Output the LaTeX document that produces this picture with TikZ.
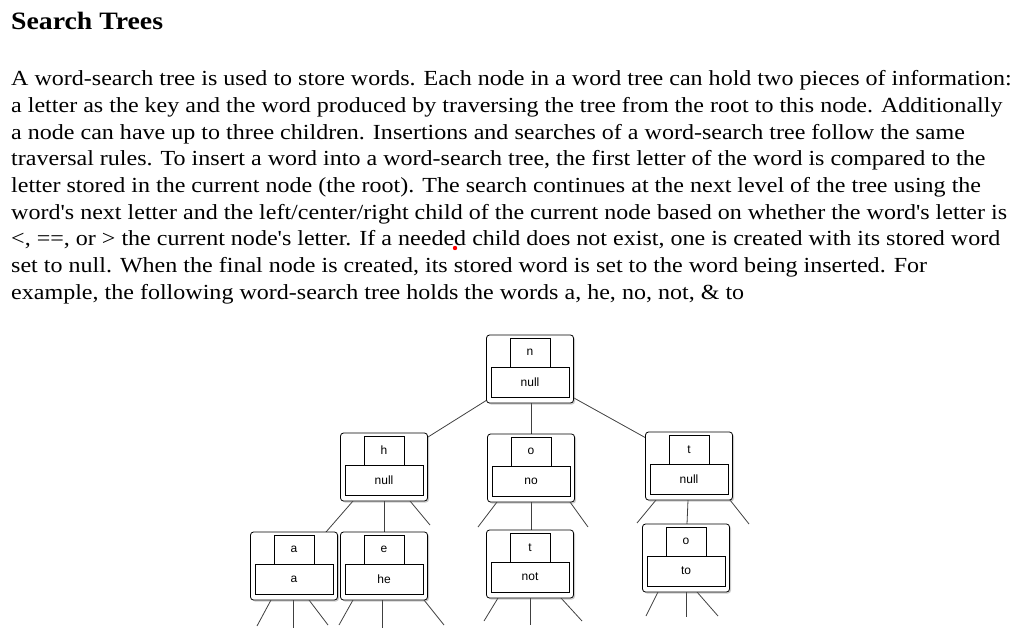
\documentclass[tikz,border=0pt]{standalone}
\usepackage{fontspec}
\setmainfont{Liberation Serif}
\newfontfamily\lsans{Liberation Sans}
\usetikzlibrary{shadows}
\newcommand{\pl}[1]{\scalebox{1.118}[1]{#1}}
\newcommand{\ap}{\textquotesingle}
\begin{document}
\begin{tikzpicture}[x=1pt,y=-1pt,
  outer/.style={draw,rounded corners=3pt,fill=white,line width=0.8pt,minimum width=87pt,minimum height=68pt,drop shadow={shadow xshift=1.5pt,shadow yshift=-1.5pt,opacity=0.4}},
  keyb/.style={draw,fill=white,line width=0.7pt,minimum width=40pt,minimum height=29pt,font=\lsans\fontsize{12}{13}\selectfont,inner sep=0pt},
  wordb/.style={draw,fill=white,line width=0.7pt,minimum width=78pt,minimum height=30pt,font=\lsans\fontsize{12}{13}\selectfont,inner sep=0pt},
  ln/.style={line width=0.8pt,draw=black!75},
  para/.style={anchor=base west,inner sep=0pt,font=\fontsize{21.5}{24}\selectfont}]
\useasboundingbox (0,0) rectangle (1024,642);
\node[anchor=base west,inner sep=0pt,font=\bfseries\fontsize{25}{28}\selectfont] (title) at (11,30) {\scalebox{1.11}[1]{Search Trees}};
\node[para] (l1) at (11,85) {\pl{A word-search tree is used to store words. Each node in a word tree can hold two pieces of information:}};
\node[para] (l2) at (11,112) {\pl{a letter as the key and the word produced by traversing the tree from the root to this node. Additionally}};
\node[para] (l3) at (11,139) {\pl{a node can have up to three children. Insertions and searches of a word-search tree follow the same}};
\node[para] (l4) at (11,165) {\pl{traversal rules. To insert a word into a word-search tree, the first letter of the word is compared to the}};
\node[para] (l5) at (11,192) {\pl{letter stored in the current node (the root). The search continues at the next level of the tree using the}};
\node[para] (l6) at (11,219) {\pl{word\ap s next letter and the left/center/right child of the current node based on whether the word\ap s letter is}};
\node[para] (l7) at (11,245) {\pl{<, ==, or > the current node\ap s letter. If a needed child does not exist, one is created with its stored word}};
\node[para] (l8) at (11,272) {\pl{set to null. When the final node is created, its stored word is set to the word being inserted. For}};
\node[para] (l9) at (11,299) {\pl{example, the following word-search tree holds the words a, he, no, not, \& to}};
\fill[red] (455,248) circle (2.2pt);
\coordinate (cr) at (530,369);
\coordinate (ch) at (384,467);
\coordinate (co) at (531,468);
\coordinate (ct) at (689,466);
\coordinate (ca) at (294,566);
\coordinate (ce) at (384,566);
\coordinate (cn) at (530,564);
\coordinate (cto) at (686,558);
% connectors
\draw[ln] (487,400) -- (428,437);
\draw[ln] (531,403) -- (531,434);
\draw[ln] (574,398) -- (646,438);
\draw[ln] (353,501) -- (326,532);
\draw[ln] (384,501) -- (384,532);
\draw[ln] (410,501) -- (430,525);
\draw[ln] (497,502) -- (478,527);
\draw[ln] (531,502) -- (531,530);
\draw[ln] (570,502) -- (588,527);
\draw[ln] (656,500) -- (637,523);
\draw[ln] (688,500) -- (687,524);
\draw[ln] (730,500) -- (749,524);
\draw[ln] (271,600) -- (257,626); \draw[ln] (293,600) -- (293,628); \draw[ln] (309,600) -- (328,625);
\draw[ln] (353,600) -- (339,625); \draw[ln] (382,600) -- (382,628); \draw[ln] (424,600) -- (444,625);
\draw[ln] (498,598) -- (484,621); \draw[ln] (530,598) -- (530,625); \draw[ln] (561,598) -- (582,621);
\draw[ln] (658,592) -- (646,616); \draw[ln] (686,592) -- (686,617); \draw[ln] (697,592) -- (718,616);
\foreach \n/\c/\k/\w in {r/cr/n/null,h/ch/h/null,o/co/o/no,t/ct/t/null,a/ca/a/a,e/ce/e/he,nt/cn/t/not,to/cto/o/to}{
  \node[outer] (\n) at (\c) {};
  \node[keyb,anchor=north] (\n k) at ([yshift=-3pt]\n.north) {\k};
  \node[wordb,anchor=south] (\n w) at ([yshift=6pt]\n.south) {\w};
}
\end{tikzpicture}
\end{document}
